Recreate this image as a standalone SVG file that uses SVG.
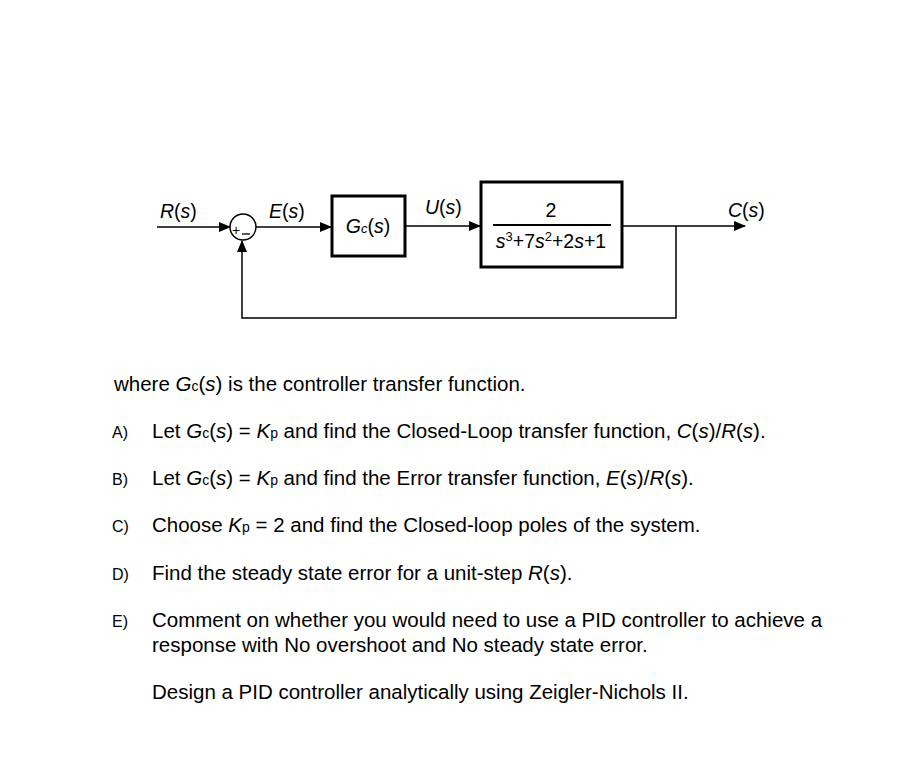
<svg xmlns="http://www.w3.org/2000/svg" width="905" height="774" viewBox="0 0 905 774">
<defs>
<marker id="ah" markerWidth="12" markerHeight="10" refX="11" refY="5" orient="auto" markerUnits="userSpaceOnUse"><path d="M0,0 L12,5 L0,10 Z" fill="#000"/></marker>
<style>
text{font-family:"Liberation Sans",Arial,sans-serif;fill:#000}
.l{font-size:19.5px}
.t{font-size:20.5px}
.k{font-size:16px}
.w{stroke:#000;stroke-width:1.5;fill:none}
.b{stroke:#000;stroke-width:3;fill:#fff}
</style>
</defs>
<rect width="905" height="774" fill="#fff"/>
<g id="connectors">
<line class="w" x1="157" y1="227" x2="230" y2="227" marker-end="url(#ah)"/>
<line class="w" x1="256" y1="227" x2="331" y2="227" marker-end="url(#ah)"/>
<line class="w" x1="406" y1="226" x2="480" y2="226" marker-end="url(#ah)"/>
<line class="w" x1="623" y1="226" x2="745" y2="226" marker-end="url(#ah)"/>
<polyline class="w" points="676,226 676,318 242,318 242,241" marker-end="url(#ah)"/>
</g>
<g id="sum"><circle cx="243" cy="227" r="13" fill="#fff" stroke="#000" stroke-width="1.5"/><text x="232" y="235" font-size="14">+</text><line x1="242" y1="234" x2="250" y2="234" stroke="#000" stroke-width="1.3"/></g>
<g id="gc"><rect class="b" x="332" y="196" width="73" height="60"/><text class="l" x="368" y="233" text-anchor="middle" font-style="italic">G<tspan font-size="13">c</tspan><tspan font-style="normal">(</tspan>s<tspan font-style="normal">)</tspan></text></g>
<g id="plant"><rect class="b" x="481" y="182" width="141" height="85"/><text class="l" x="551" y="217" text-anchor="middle">2</text><line x1="493" y1="225" x2="611" y2="225" stroke="#000" stroke-width="2"/><text class="l" x="551" y="248" text-anchor="middle"><tspan font-style="italic">s</tspan><tspan font-size="13" dy="-7">3</tspan><tspan dy="7">+7</tspan><tspan font-style="italic">s</tspan><tspan font-size="13" dy="-7">2</tspan><tspan dy="7">+2</tspan><tspan font-style="italic">s</tspan>+1</text></g>
<g id="labels" class="l">
<text x="160" y="218"><tspan font-style="italic">R</tspan>(<tspan font-style="italic">s</tspan>)</text>
<text x="269" y="218"><tspan font-style="italic">E</tspan>(<tspan font-style="italic">s</tspan>)</text>
<text x="425" y="214"><tspan font-style="italic">U</tspan>(<tspan font-style="italic">s</tspan>)</text>
<text x="728" y="217"><tspan font-style="italic">C</tspan>(<tspan font-style="italic">s</tspan>)</text>
</g>
<g id="text">
<text class="t" x="114" y="391">where <tspan font-style="italic">G</tspan><tspan font-size="14">c</tspan>(<tspan font-style="italic">s</tspan>) is the controller transfer function.</text>
<text class="k" x="112" y="438">A)</text>
<text class="t" x="152" y="438">Let <tspan font-style="italic">G</tspan><tspan font-size="14">c</tspan>(<tspan font-style="italic">s</tspan>) = <tspan font-style="italic">K</tspan><tspan font-size="14">p</tspan> and find the Closed-Loop transfer function, <tspan font-style="italic">C</tspan>(<tspan font-style="italic">s</tspan>)/<tspan font-style="italic">R</tspan>(<tspan font-style="italic">s</tspan>).</text>
<text class="k" x="112" y="485">B)</text>
<text class="t" x="152" y="485">Let <tspan font-style="italic">G</tspan><tspan font-size="14">c</tspan>(<tspan font-style="italic">s</tspan>) = <tspan font-style="italic">K</tspan><tspan font-size="14">p</tspan> and find the Error transfer function, <tspan font-style="italic">E</tspan>(<tspan font-style="italic">s</tspan>)/<tspan font-style="italic">R</tspan>(<tspan font-style="italic">s</tspan>).</text>
<text class="k" x="112" y="532">C)</text>
<text class="t" x="152" y="532">Choose <tspan font-style="italic">K</tspan><tspan font-size="14">p</tspan> = 2 and find the Closed-loop poles of the system.</text>
<text class="k" x="112" y="580">D)</text>
<text class="t" x="152" y="580">Find the steady state error for a unit-step <tspan font-style="italic">R</tspan>(<tspan font-style="italic">s</tspan>).</text>
<text class="k" x="112" y="627">E)</text>
<text class="t" x="152" y="627">Comment on whether you would need to use a PID controller to achieve a</text>
<text class="t" x="152" y="652">response with No overshoot and No steady state error.</text>
<text class="t" x="152" y="699">Design a PID controller analytically using Zeigler-Nichols II.</text>
</g>
</svg>
